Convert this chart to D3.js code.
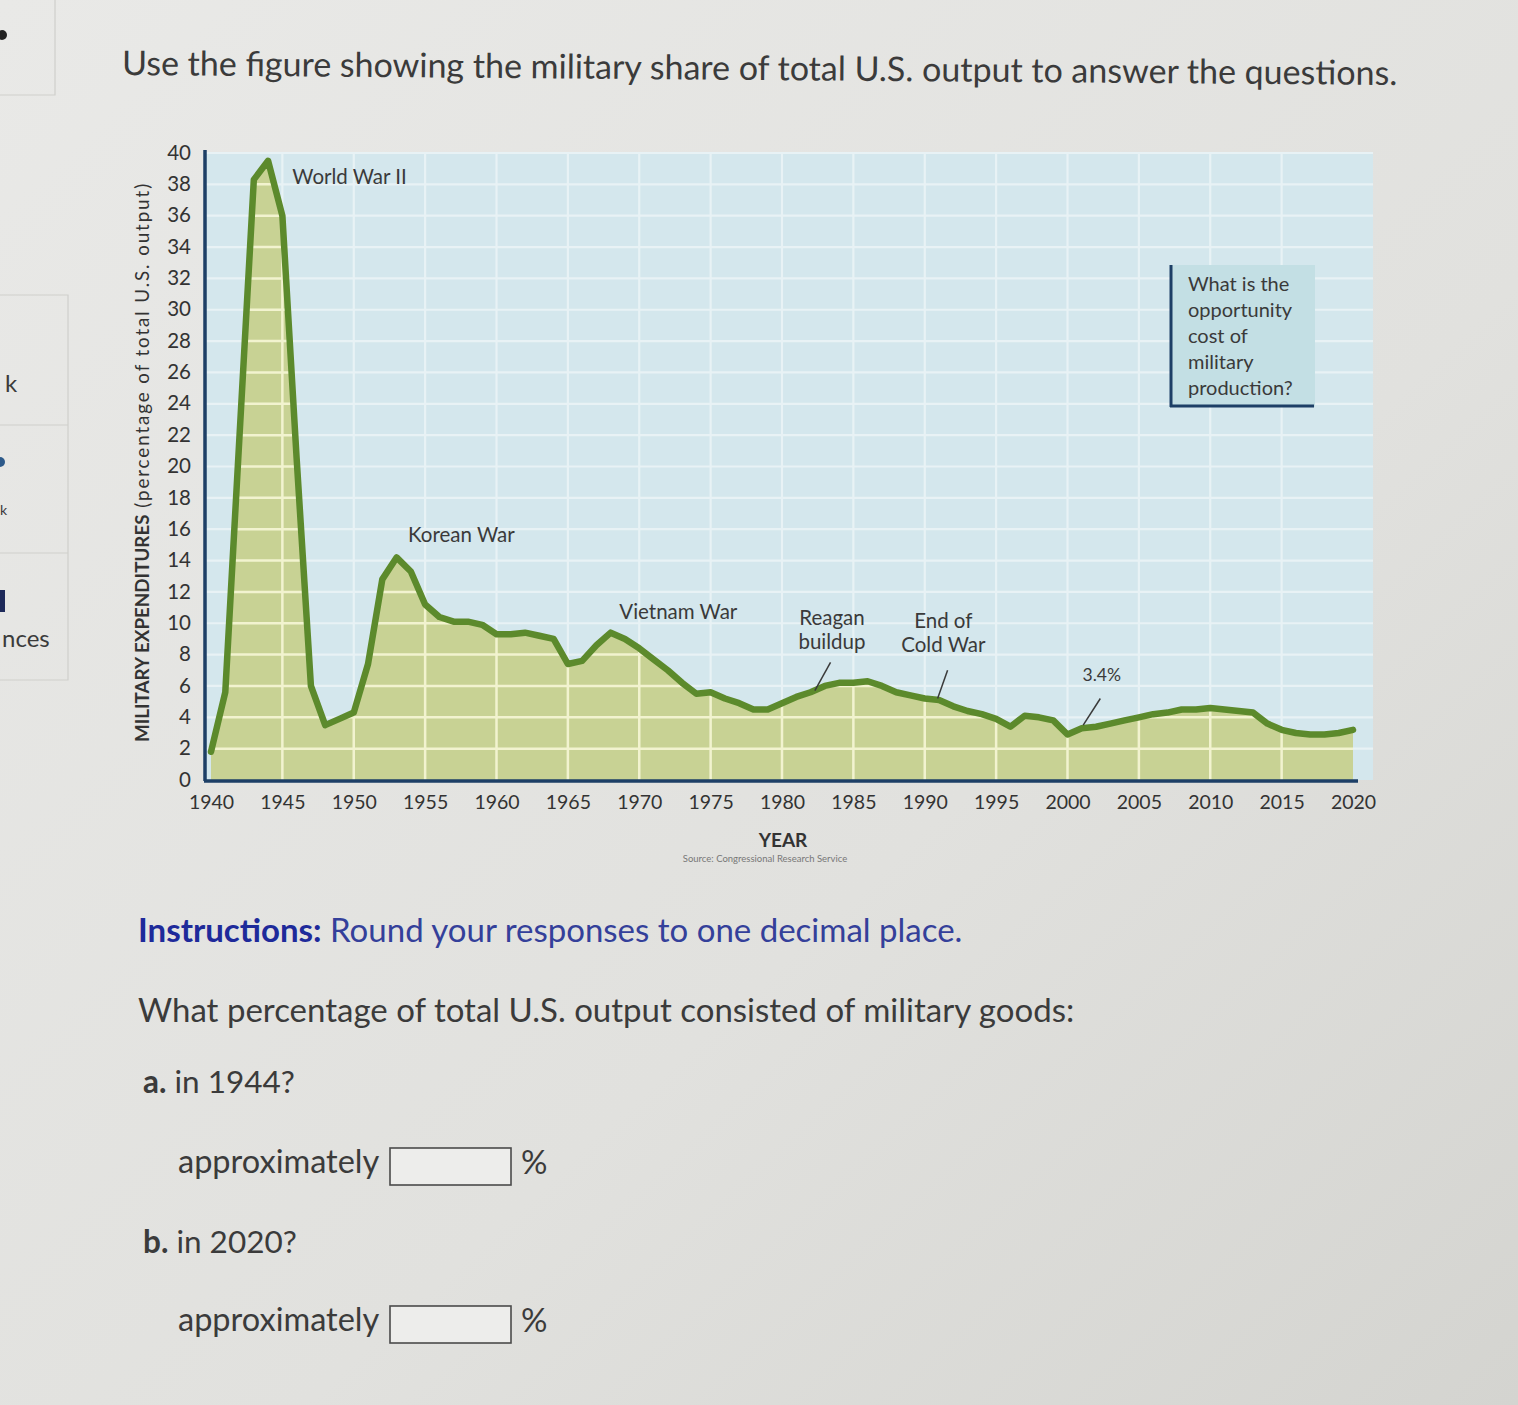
<!DOCTYPE html>
<html>
<head>
<meta charset="utf-8">
<script src="https://cdn.jsdelivr.net/npm/d3@7"></script>
<style>
  html, body { margin: 0; padding: 0; background: #e4e4e2; }
  svg { display: block; }
</style>
</head>
<body>
<svg id="page" width="1518" height="1405"></svg>
<script>
// ---------- DATA ----------
const years = [1940,1941,1942,1943,1944,1945,1946,1947,1948,1949,
  1950,1951,1952,1953,1954,1955,1956,1957,1958,1959,
  1960,1961,1962,1963,1964,1965,1966,1967,1968,1969,
  1970,1971,1972,1973,1974,1975,1976,1977,1978,1979,
  1980,1981,1982,1983,1984,1985,1986,1987,1988,1989,
  1990,1991,1992,1993,1994,1995,1996,1997,1998,1999,
  2000,2001,2002,2003,2004,2005,2006,2007,2008,2009,
  2010,2011,2012,2013,2014,2015,2016,2017,2018,2019,2020];
const militaryShare = [1.8,5.6,22.0,38.3,39.5,36.0,20.5,6.0,3.5,3.9,
  4.3,7.4,12.8,14.2,13.3,11.2,10.4,10.1,10.1,9.9,
  9.3,9.3,9.4,9.2,9.0,7.4,7.6,8.6,9.4,9.0,
  8.4,7.7,7.0,6.2,5.5,5.6,5.2,4.9,4.5,4.5,
  4.9,5.3,5.6,6.0,6.2,6.2,6.3,6.0,5.6,5.4,
  5.2,5.1,4.7,4.4,4.2,3.9,3.4,4.1,4.0,3.8,
  2.9,3.3,3.4,3.6,3.8,4.0,4.2,4.3,4.5,4.5,
  4.6,4.5,4.4,4.3,3.6,3.2,3.0,2.9,2.9,3.0,3.2];
const xTickYears = [1940,1945,1950,1955,1960,1965,1970,1975,1980,1985,1990,1995,2000,2005,2010,2015,2020];
const yTickValues = [0,2,4,6,8,10,12,14,16,18,20,22,24,26,28,30,32,34,36,38,40];
const gridYears = [1945,1950,1955,1960,1965,1970,1975,1980,1985,1990,1995,2000,2005,2010,2015];
const annotations = [
  {lines:["World War II"], year:1945.7, value:38.0, anchor:"start"},
  {lines:["Korean War"], year:1953.8, value:15.2, anchor:"start"},
  {lines:["Vietnam War"], year:1968.6, value:10.3, anchor:"start"},
  {lines:["Reagan","buildup"], year:1983.5, value:9.9, anchor:"middle"},
  {lines:["End of","Cold War"], year:1991.3, value:9.7, anchor:"middle"},
  {lines:["3.4%"], year:2002.4, value:6.3, anchor:"middle", small:true}
];
const pointers = [
  {x1:1983.4, v1:7.5, x2:1982.3, v2:5.7},
  {x1:1991.6, v1:7.0, x2:1990.9, v2:5.2},
  {x1:2002.3, v1:5.2, x2:2001.1, v2:3.5}
];
const boxLines = ["What is the","opportunity","cost of","military","production?"];

// ---------- PAGE ----------
const svg = d3.select("#page");
const defs = svg.append("defs");
const bg = defs.append("linearGradient").attr("id","pagebg")
  .attr("x1","0").attr("y1","0").attr("x2","1").attr("y2","1");
bg.append("stop").attr("offset","0").attr("stop-color","#e9e9e7");
bg.append("stop").attr("offset","0.6").attr("stop-color","#e1e1de");
bg.append("stop").attr("offset","1").attr("stop-color","#d4d4d0");
svg.append("rect").attr("width",1518).attr("height",1405).attr("fill","url(#pagebg)");

const font = "Lato, 'Open Sans', sans-serif";
const textCol = "#3b3b3b";

// left-hand UI fragments
const ui = svg.append("g").attr("stroke","#cfcfcc").attr("fill","none").attr("stroke-width",1.2);
ui.append("path").attr("d","M0,95 H55 V0");
ui.append("path").attr("d","M0,295 H68 V680 H0");
ui.append("path").attr("d","M0,425 H68");
ui.append("path").attr("d","M0,553 H68");
svg.append("circle").attr("cx",2).attr("cy",35).attr("r",5).attr("fill","#222");
svg.append("circle").attr("cx",0).attr("cy",462).attr("r",5).attr("fill","#2d5a8a");
svg.append("rect").attr("x",0).attr("y",590).attr("width",5).attr("height",22).attr("fill","#1e2a5a");
svg.append("text").attr("x",5).attr("y",392)
  .attr("font-family",font).attr("font-size",24).attr("fill",textCol).text("k");
svg.append("text").attr("x",0).attr("y",515)
  .attr("font-family",font).attr("font-size",14).attr("fill",textCol).text("k");
svg.append("text").attr("x",2).attr("y",647)
  .attr("font-family",font).attr("font-size",24).attr("fill",textCol).text("nces");

// title
svg.append("text")
  .attr("transform","translate(122,75) rotate(0.45)")
  .attr("font-family",font).attr("font-size",34).attr("fill",textCol)
  .text("Use the figure showing the military share of total U.S. output to answer the questions.");

// ---------- CHART ----------
const x = d3.scaleLinear().domain([1940,2020]).range([211,1353]);
const y = d3.scaleLinear().domain([0,40]).range([780,153]);

const chart = svg.append("g");
chart.append("rect").attr("x",205).attr("y",152).attr("width",1168).attr("height",628)
  .attr("fill","#d4e7ed");
const gridBg = chart.append("g").attr("stroke","#ecf5f7").attr("stroke-width",2.2).attr("opacity",0.85);
gridBg.selectAll("line.v").data(gridYears).join("line")
  .attr("x1",d=>x(d)).attr("x2",d=>x(d)).attr("y1",y(40)).attr("y2",y(0));
gridBg.selectAll("line.h").data(yTickValues.filter(v=>v>0)).join("line")
  .attr("x1",205).attr("x2",1373).attr("y1",d=>y(d)).attr("y2",d=>y(d));

const area = d3.area().x((d,i)=>x(years[i])).y0(y(0)).y1(d=>y(d));
const line = d3.line().x((d,i)=>x(years[i])).y(d=>y(d));
chart.append("path").attr("d",area(militaryShare)).attr("fill","#c8d294");
defs.append("clipPath").attr("id","areaClip").append("path").attr("d",area(militaryShare));
const gridFg = chart.append("g").attr("clip-path","url(#areaClip)")
  .attr("stroke","#f2f3cf").attr("stroke-width",2.5);
gridFg.selectAll("line.v").data(gridYears).join("line")
  .attr("x1",d=>x(d)).attr("x2",d=>x(d)).attr("y1",y(40)).attr("y2",y(0));
gridFg.selectAll("line.h").data(yTickValues.filter(v=>v>0)).join("line")
  .attr("x1",205).attr("x2",1373).attr("y1",d=>y(d)).attr("y2",d=>y(d));

chart.append("path").attr("d",line(militaryShare)).attr("fill","none")
  .attr("stroke","#5c8a2c").attr("stroke-width",6.5)
  .attr("stroke-linejoin","round").attr("stroke-linecap","round");

chart.append("line").attr("x1",205).attr("x2",205).attr("y1",150).attr("y2",781)
  .attr("stroke","#1d3f66").attr("stroke-width",3.5);
chart.append("line").attr("x1",204).attr("x2",1358).attr("y1",781).attr("y2",781)
  .attr("stroke","#1d3f66").attr("stroke-width",3.5);

const yAxis = chart.append("g").attr("transform","translate(191,0)")
  .call(d3.axisLeft(y).tickValues(yTickValues).tickSize(0).tickPadding(0).tickFormat(d3.format("d")));
yAxis.select(".domain").remove();
yAxis.selectAll("text").attr("font-family",font).attr("font-size",20.5).attr("fill","#333")
  .attr("dy","0.3em");

const xAxis = chart.append("g").attr("transform","translate(0,783)")
  .call(d3.axisBottom(x).tickValues(xTickYears).tickSize(0).tickPadding(12).tickFormat(d3.format("d")));
xAxis.select(".domain").remove();
xAxis.selectAll("text").attr("font-family",font).attr("font-size",19.5).attr("fill","#333");

const yTitle = chart.append("text")
  .attr("transform","translate(149,462) rotate(-90)")
  .attr("text-anchor","middle").attr("font-family",font).attr("font-size",18.8).attr("fill","#333");
yTitle.append("tspan").attr("font-weight","bold").text("MILITARY EXPENDITURES");
yTitle.append("tspan").attr("letter-spacing",1.9).text(" (percentage of total U.S. output)");

chart.append("text").attr("x",783).attr("y",847).attr("text-anchor","middle")
  .attr("font-family",font).attr("font-weight","bold").attr("font-size",19).attr("fill","#333")
  .text("YEAR");
chart.append("text").attr("x",765).attr("y",862).attr("text-anchor","middle")
  .attr("font-family",font).attr("font-size",9.5).attr("fill","#666").attr("opacity",0.85)
  .text("Source: Congressional Research Service");

annotations.forEach(a=>{
  const t = chart.append("text").attr("x",x(a.year)).attr("y",y(a.value))
    .attr("text-anchor",a.anchor).attr("font-family",font)
    .attr("font-size",a.small?17.5:20.5).attr("fill","#3a3a3a");
  a.lines.forEach((l,i)=>{
    t.append("tspan").attr("x",x(a.year)).attr("dy",i===0?0:24.5).text(l);
  });
});
chart.selectAll("line.ptr").data(pointers).join("line").attr("class","ptr")
  .attr("x1",d=>x(d.x1)).attr("y1",d=>y(d.v1)).attr("x2",d=>x(d.x2)).attr("y2",d=>y(d.v2))
  .attr("stroke","#3a3a3a").attr("stroke-width",1.5);

const box = chart.append("g");
box.append("rect").attr("x",1170).attr("y",265).attr("width",145).attr("height",142)
  .attr("fill","#c3dfe4");
box.append("line").attr("x1",1171).attr("x2",1171).attr("y1",265).attr("y2",407)
  .attr("stroke","#1d3f66").attr("stroke-width",3);
box.append("line").attr("x1",1170).attr("x2",1314).attr("y1",406).attr("y2",406)
  .attr("stroke","#1d3f66").attr("stroke-width",3);
const bt = box.append("text").attr("font-family",font).attr("font-size",20).attr("fill","#3a3a3a");
boxLines.forEach((l,i)=>{
  bt.append("tspan").attr("x",1188).attr("y",291+i*26).text(l);
});

// ---------- QUESTIONS ----------
const q = svg.append("g").attr("font-family",font).attr("font-size",33);
const instr = q.append("text").attr("x",138).attr("y",942).attr("fill","#34409a");
instr.append("tspan").attr("font-weight","bold").attr("fill","#1e2a9a").text("Instructions:");
instr.append("tspan").text(" Round your responses to one decimal place.");
q.append("text").attr("x",138).attr("y",1022).attr("fill",textCol)
  .text("What percentage of total U.S. output consisted of military goods:");

const qa = q.append("text").attr("x",143).attr("y",1093).attr("font-size",31.5).attr("fill",textCol);
qa.append("tspan").attr("font-weight","bold").text("a.");
qa.append("tspan").text(" in 1944?");
const qb = q.append("text").attr("x",143).attr("y",1253).attr("font-size",31.5).attr("fill",textCol);
qb.append("tspan").attr("font-weight","bold").text("b.");
qb.append("tspan").text(" in 2020?");

[1173, 1331].forEach(by=>{
  q.append("text").attr("x",178).attr("y",by).attr("font-size",32.5).attr("fill",textCol).text("approximately");
  q.append("rect").attr("x",390).attr("y",by-25).attr("width",121).attr("height",37)
    .attr("fill","#ededeb").attr("stroke","#4a4a4a").attr("stroke-width",1.6);
  q.append("text").attr("x",521).attr("y",by+1).attr("fill",textCol).text("%");
});
</script>
</body>
</html>
